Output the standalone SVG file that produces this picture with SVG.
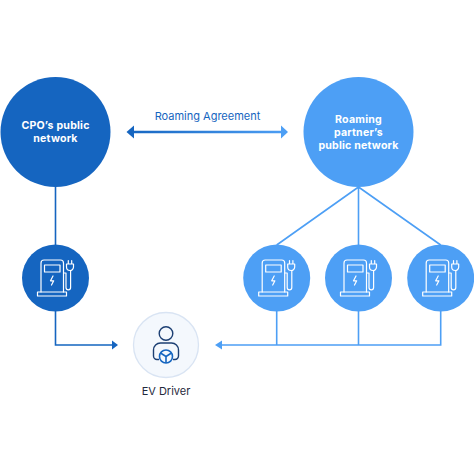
<svg xmlns="http://www.w3.org/2000/svg" width="474" height="474" viewBox="0 0 474 474">
<style>
.t{font-family:"Inter","Liberation Sans",sans-serif;text-anchor:middle}
.w{fill:#fff;font-size:10.600px;font-weight:700;letter-spacing:.2px}
.p{fill:none;stroke:#fff;stroke-width:1.200;stroke-linejoin:round;stroke-linecap:round}
.d{fill:none;stroke:#1565c0;stroke-width:1.600}
.l{fill:none;stroke:#4d9ff5;stroke-width:1.600}
</style>
<defs>
<linearGradient id="g" gradientUnits="userSpaceOnUse" x1="127" y1="0" x2="287" y2="0"><stop offset="0" stop-color="#1565c0"/><stop offset="1" stop-color="#4d9ff5"/></linearGradient>
<g id="pump">
<path class="p" d="M-14.500 14V-15a3 3 0 0 1 3-3H5a3 3 0 0 1 3 3V14"/>
<rect class="p" x="-18" y="14" width="29" height="4"/>
<rect class="p" x="-11" y="-13" width="15.500" height="7"/>
<path class="p" d="M-2.500 -2L-5 2.800H-1.800L-4 7"/>
<path class="p" d="M8 -5H10.500V9.500a2.300 2.300 0 0 0 4.600 0V-7"/>
<path class="p" d="M11 -14H18V-11a3.500 3.500 0 0 1 -7 0ZM12.800 -14V-17.500M16.200 -14V-17.500"/>
</g>
</defs>
<rect width="474" height="474" fill="#fff"/>
<g id="connectors">
<path class="d" d="M55.500 180V345H113"/>
<path d="M112 340.500L118 345L112 349.500Z" fill="#1565c0"/>
<path class="l" d="M358.500 187L276.700 245M358.500 187V245M358.500 187L440.700 245M276.700 310V345M358.500 310V345M440.700 310V345.800M441.500 345H220"/>
<path d="M222 340.500L215 345L222 349.500Z" fill="#4d9ff5"/>
<path d="M133 130.800H281V133.200H133Z" fill="url(#g)"/>
<path d="M134 125.500L126.500 132L134 138.500Z" fill="#1565c0"/>
<path d="M281 125.500L288 132L281 138.500Z" fill="#4d9ff5"/>
</g>
<g id="cpo-network">
<circle cx="55.500" cy="132" r="55" fill="#1565c0"/>
<text class="t w" x="55.500" y="129">CPO’s public</text>
<text class="t w" x="55.500" y="142">network</text>
</g>
<g id="roaming-network">
<circle cx="358.500" cy="132" r="55" fill="#4d9ff5"/>
<text class="t w" x="358.500" y="122.700">Roaming</text>
<text class="t w" x="358.500" y="135.700">partner’s</text>
<text class="t w" x="358.500" y="148.700">public network</text>
</g>
<g id="roaming-agreement">
<text class="t" x="207.500" y="120" font-size="11" font-weight="400" fill="#1565c0">Roaming Agreement</text>
</g>
<g id="cpo-charger"><circle cx="55.500" cy="278" r="33.500" fill="#1565c0"/><use href="#pump" x="55.500" y="278"/></g>
<g id="partner-charger-1"><circle cx="276.700" cy="278" r="33.500" fill="#4d9ff5"/><use href="#pump" x="276.700" y="278"/></g>
<g id="partner-charger-2"><circle cx="358.500" cy="278" r="33.500" fill="#4d9ff5"/><use href="#pump" x="358.500" y="278"/></g>
<g id="partner-charger-3"><circle cx="440.700" cy="278" r="33.500" fill="#4d9ff5"/><use href="#pump" x="440.700" y="278"/></g>
<g id="ev-driver">
<circle cx="166" cy="345" r="32.500" fill="#f4f8fd" stroke="#d9e4f3" stroke-width="1.300"/>
<circle cx="166" cy="333.500" r="6.800" fill="none" stroke="#1c3f73" stroke-width="1.400"/>
<path d="M159 359.500H157a3.500 3.500 0 0 1 -3.500 -3.500V350a7 7 0 0 1 7 -7H171.500a7 7 0 0 1 7 7V356a3.500 3.500 0 0 1 -3.500 3.500H173" fill="none" stroke="#1c3f73" stroke-width="1.400"/>
<circle cx="166" cy="356.500" r="6.500" fill="none" stroke="#1565c0" stroke-width="1.600"/>
<path d="M160.500 353L166 356.500L171.500 353M166 356.500V363" fill="none" stroke="#1565c0" stroke-width="1.600"/>
<text class="t" x="166" y="395" font-size="11" font-weight="400" fill="#1f2a3c">EV Driver</text>
</g>
</svg>
